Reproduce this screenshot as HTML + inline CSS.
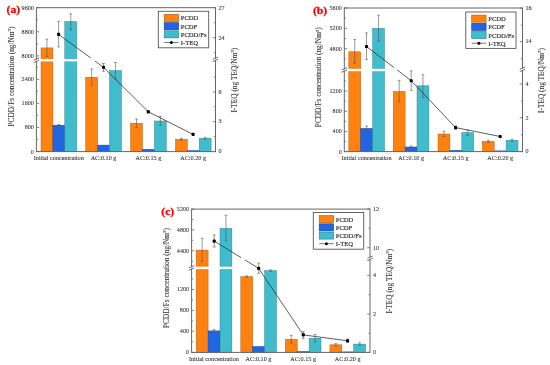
<!DOCTYPE html>
<html><head><meta charset="utf-8"><style>
html,body{margin:0;padding:0;background:#fff;width:550px;height:365px;overflow:hidden}
svg{display:block;font-family:"Liberation Serif", serif;will-change:transform}
</style></head><body>
<svg width="550" height="365" viewBox="0 0 550 365">
<rect width="550" height="365" fill="#fff"/>
<rect x="41.00" y="47.90" width="11.90" height="103.70" fill="#FF8210" stroke="#B05A10" stroke-width="0.45"/>
<rect x="52.90" y="125.20" width="11.90" height="26.40" fill="#2265E2" stroke="#153F99" stroke-width="0.45"/>
<rect x="64.80" y="21.50" width="11.90" height="130.10" fill="#40BCCD" stroke="#2A7F8C" stroke-width="0.45"/>
<line x1="46.95" y1="39.10" x2="46.95" y2="56.40" stroke="#555" stroke-width="0.6"/>
<line x1="45.55" y1="39.10" x2="48.35" y2="39.10" stroke="#555" stroke-width="0.6"/>
<line x1="45.55" y1="56.40" x2="48.35" y2="56.40" stroke="#555" stroke-width="0.6"/>
<line x1="58.85" y1="124.50" x2="58.85" y2="126.00" stroke="#555" stroke-width="0.6"/>
<line x1="57.45" y1="124.50" x2="60.25" y2="124.50" stroke="#555" stroke-width="0.6"/>
<line x1="57.45" y1="126.00" x2="60.25" y2="126.00" stroke="#555" stroke-width="0.6"/>
<line x1="70.75" y1="13.80" x2="70.75" y2="29.60" stroke="#555" stroke-width="0.6"/>
<line x1="69.35" y1="13.80" x2="72.15" y2="13.80" stroke="#555" stroke-width="0.6"/>
<line x1="69.35" y1="29.60" x2="72.15" y2="29.60" stroke="#555" stroke-width="0.6"/>
<rect x="85.70" y="77.20" width="11.90" height="74.40" fill="#FF8210" stroke="#B05A10" stroke-width="0.45"/>
<rect x="97.60" y="145.10" width="11.90" height="6.50" fill="#2265E2" stroke="#153F99" stroke-width="0.45"/>
<rect x="109.50" y="70.60" width="11.90" height="81.00" fill="#40BCCD" stroke="#2A7F8C" stroke-width="0.45"/>
<line x1="91.65" y1="69.00" x2="91.65" y2="85.00" stroke="#555" stroke-width="0.6"/>
<line x1="90.25" y1="69.00" x2="93.05" y2="69.00" stroke="#555" stroke-width="0.6"/>
<line x1="90.25" y1="85.00" x2="93.05" y2="85.00" stroke="#555" stroke-width="0.6"/>
<line x1="115.45" y1="62.50" x2="115.45" y2="78.70" stroke="#555" stroke-width="0.6"/>
<line x1="114.05" y1="62.50" x2="116.85" y2="62.50" stroke="#555" stroke-width="0.6"/>
<line x1="114.05" y1="78.70" x2="116.85" y2="78.70" stroke="#555" stroke-width="0.6"/>
<rect x="130.60" y="123.20" width="11.90" height="28.40" fill="#FF8210" stroke="#B05A10" stroke-width="0.45"/>
<rect x="142.50" y="149.30" width="11.90" height="2.30" fill="#2265E2" stroke="#153F99" stroke-width="0.45"/>
<rect x="154.40" y="121.00" width="11.90" height="30.60" fill="#40BCCD" stroke="#2A7F8C" stroke-width="0.45"/>
<line x1="136.55" y1="119.00" x2="136.55" y2="127.60" stroke="#555" stroke-width="0.6"/>
<line x1="135.15" y1="119.00" x2="137.95" y2="119.00" stroke="#555" stroke-width="0.6"/>
<line x1="135.15" y1="127.60" x2="137.95" y2="127.60" stroke="#555" stroke-width="0.6"/>
<line x1="160.35" y1="116.20" x2="160.35" y2="125.40" stroke="#555" stroke-width="0.6"/>
<line x1="158.95" y1="116.20" x2="161.75" y2="116.20" stroke="#555" stroke-width="0.6"/>
<line x1="158.95" y1="125.40" x2="161.75" y2="125.40" stroke="#555" stroke-width="0.6"/>
<rect x="175.40" y="139.20" width="11.90" height="12.40" fill="#FF8210" stroke="#B05A10" stroke-width="0.45"/>
<rect x="187.30" y="150.60" width="11.90" height="1.00" fill="#2265E2" stroke="#153F99" stroke-width="0.45"/>
<rect x="199.20" y="138.30" width="11.90" height="13.30" fill="#40BCCD" stroke="#2A7F8C" stroke-width="0.45"/>
<line x1="181.35" y1="138.20" x2="181.35" y2="140.20" stroke="#555" stroke-width="0.6"/>
<line x1="179.95" y1="138.20" x2="182.75" y2="138.20" stroke="#555" stroke-width="0.6"/>
<line x1="179.95" y1="140.20" x2="182.75" y2="140.20" stroke="#555" stroke-width="0.6"/>
<line x1="205.15" y1="137.30" x2="205.15" y2="139.30" stroke="#555" stroke-width="0.6"/>
<line x1="203.75" y1="137.30" x2="206.55" y2="137.30" stroke="#555" stroke-width="0.6"/>
<line x1="203.75" y1="139.30" x2="206.55" y2="139.30" stroke="#555" stroke-width="0.6"/>
<rect x="37.00" y="59.00" width="177.90" height="2.40" fill="#fff"/>
<path d="M58.60,34.40 L103.50,67.30 L148.30,111.80 L193.10,134.40" fill="none" stroke="#333" stroke-width="0.8"/>
<line x1="90.70" y1="57.92" x2="95.00" y2="61.07" stroke="#fff" stroke-width="2.2"/>
<line x1="58.60" y1="21.40" x2="58.60" y2="46.90" stroke="#555" stroke-width="0.6"/>
<line x1="57.20" y1="21.40" x2="60.00" y2="21.40" stroke="#555" stroke-width="0.6"/>
<line x1="57.20" y1="46.90" x2="60.00" y2="46.90" stroke="#555" stroke-width="0.6"/>
<rect x="57.05" y="32.85" width="3.1" height="3.1" rx="0.9" fill="#000"/>
<line x1="103.50" y1="63.50" x2="103.50" y2="71.30" stroke="#555" stroke-width="0.6"/>
<line x1="102.10" y1="63.50" x2="104.90" y2="63.50" stroke="#555" stroke-width="0.6"/>
<line x1="102.10" y1="71.30" x2="104.90" y2="71.30" stroke="#555" stroke-width="0.6"/>
<rect x="101.95" y="65.75" width="3.1" height="3.1" rx="0.9" fill="#000"/>
<line x1="148.30" y1="110.50" x2="148.30" y2="113.00" stroke="#555" stroke-width="0.6"/>
<line x1="146.90" y1="110.50" x2="149.70" y2="110.50" stroke="#555" stroke-width="0.6"/>
<line x1="146.90" y1="113.00" x2="149.70" y2="113.00" stroke="#555" stroke-width="0.6"/>
<rect x="146.75" y="110.25" width="3.1" height="3.1" rx="0.9" fill="#000"/>
<rect x="191.55" y="132.85" width="3.1" height="3.1" rx="0.9" fill="#000"/>
<line x1="36.40" y1="7.70" x2="215.50" y2="7.70" stroke="#666666" stroke-width="1.0"/>
<line x1="36.40" y1="151.60" x2="215.50" y2="151.60" stroke="#666666" stroke-width="1.0"/>
<line x1="36.40" y1="7.20" x2="36.40" y2="152.10" stroke="#666666" stroke-width="1.0"/>
<line x1="215.50" y1="7.20" x2="215.50" y2="152.10" stroke="#666666" stroke-width="1.0"/>
<line x1="36.40" y1="7.70" x2="39.20" y2="7.70" stroke="#666666" stroke-width="0.8"/>
<text transform="translate(33.90,9.60) scale(0.88,1)" font-size="7.0" text-anchor="end" fill="#3a3a3a" stroke="#3a3a3a" stroke-width="0.1">9600</text>
<line x1="36.40" y1="31.80" x2="39.20" y2="31.80" stroke="#666666" stroke-width="0.8"/>
<text transform="translate(33.90,33.70) scale(0.88,1)" font-size="7.0" text-anchor="end" fill="#3a3a3a" stroke="#3a3a3a" stroke-width="0.1">8800</text>
<line x1="36.40" y1="55.90" x2="39.20" y2="55.90" stroke="#666666" stroke-width="0.8"/>
<text transform="translate(33.90,57.80) scale(0.88,1)" font-size="7.0" text-anchor="end" fill="#3a3a3a" stroke="#3a3a3a" stroke-width="0.1">8000</text>
<line x1="36.40" y1="79.30" x2="39.20" y2="79.30" stroke="#666666" stroke-width="0.8"/>
<text transform="translate(33.90,81.20) scale(0.88,1)" font-size="7.0" text-anchor="end" fill="#3a3a3a" stroke="#3a3a3a" stroke-width="0.1">2400</text>
<line x1="36.40" y1="103.30" x2="39.20" y2="103.30" stroke="#666666" stroke-width="0.8"/>
<text transform="translate(33.90,105.20) scale(0.88,1)" font-size="7.0" text-anchor="end" fill="#3a3a3a" stroke="#3a3a3a" stroke-width="0.1">1600</text>
<line x1="36.40" y1="127.40" x2="39.20" y2="127.40" stroke="#666666" stroke-width="0.8"/>
<text transform="translate(33.90,129.30) scale(0.88,1)" font-size="7.0" text-anchor="end" fill="#3a3a3a" stroke="#3a3a3a" stroke-width="0.1">800</text>
<line x1="36.40" y1="151.60" x2="39.20" y2="151.60" stroke="#666666" stroke-width="0.8"/>
<text transform="translate(33.90,153.50) scale(0.88,1)" font-size="7.0" text-anchor="end" fill="#3a3a3a" stroke="#3a3a3a" stroke-width="0.1">0</text>
<line x1="36.40" y1="19.70" x2="38.00" y2="19.70" stroke="#666666" stroke-width="0.8"/>
<line x1="36.40" y1="43.80" x2="38.00" y2="43.80" stroke="#666666" stroke-width="0.8"/>
<line x1="36.40" y1="67.30" x2="38.00" y2="67.30" stroke="#666666" stroke-width="0.8"/>
<line x1="36.40" y1="91.30" x2="38.00" y2="91.30" stroke="#666666" stroke-width="0.8"/>
<line x1="36.40" y1="115.40" x2="38.00" y2="115.40" stroke="#666666" stroke-width="0.8"/>
<line x1="36.40" y1="139.40" x2="38.00" y2="139.40" stroke="#666666" stroke-width="0.8"/>
<line x1="212.70" y1="7.70" x2="215.50" y2="7.70" stroke="#666666" stroke-width="0.8"/>
<text transform="translate(218.50,9.50) scale(0.88,1)" font-size="7.0" text-anchor="start" fill="#3a3a3a" stroke="#3a3a3a" stroke-width="0.1">27</text>
<line x1="212.70" y1="37.70" x2="215.50" y2="37.70" stroke="#666666" stroke-width="0.8"/>
<text transform="translate(218.50,39.50) scale(0.88,1)" font-size="7.0" text-anchor="start" fill="#3a3a3a" stroke="#3a3a3a" stroke-width="0.1">24</text>
<line x1="212.70" y1="92.00" x2="215.50" y2="92.00" stroke="#666666" stroke-width="0.8"/>
<text transform="translate(218.50,93.80) scale(0.88,1)" font-size="7.0" text-anchor="start" fill="#3a3a3a" stroke="#3a3a3a" stroke-width="0.1">6</text>
<line x1="212.70" y1="121.60" x2="215.50" y2="121.60" stroke="#666666" stroke-width="0.8"/>
<text transform="translate(218.50,123.40) scale(0.88,1)" font-size="7.0" text-anchor="start" fill="#3a3a3a" stroke="#3a3a3a" stroke-width="0.1">3</text>
<line x1="212.70" y1="151.60" x2="215.50" y2="151.60" stroke="#666666" stroke-width="0.8"/>
<text transform="translate(218.50,153.40) scale(0.88,1)" font-size="7.0" text-anchor="start" fill="#3a3a3a" stroke="#3a3a3a" stroke-width="0.1">0</text>
<line x1="213.90" y1="22.70" x2="215.50" y2="22.70" stroke="#666666" stroke-width="0.8"/>
<line x1="213.90" y1="52.70" x2="215.50" y2="52.70" stroke="#666666" stroke-width="0.8"/>
<line x1="213.90" y1="77.20" x2="215.50" y2="77.20" stroke="#666666" stroke-width="0.8"/>
<line x1="213.90" y1="106.80" x2="215.50" y2="106.80" stroke="#666666" stroke-width="0.8"/>
<line x1="213.90" y1="136.50" x2="215.50" y2="136.50" stroke="#666666" stroke-width="0.8"/>
<rect x="35.20" y="59.50" width="2.40" height="1.40" fill="#fff"/>
<line x1="33.70" y1="60.20" x2="39.10" y2="57.90" stroke="#555" stroke-width="0.85"/>
<line x1="33.70" y1="62.50" x2="39.10" y2="60.20" stroke="#555" stroke-width="0.85"/>
<rect x="214.30" y="58.60" width="2.40" height="1.40" fill="#fff"/>
<line x1="212.80" y1="59.30" x2="218.20" y2="57.00" stroke="#555" stroke-width="0.85"/>
<line x1="212.80" y1="61.60" x2="218.20" y2="59.30" stroke="#555" stroke-width="0.85"/>
<text x="58.79" y="159.60" font-size="6.2" text-anchor="middle" fill="#3a3a3a" stroke="#3a3a3a" stroke-width="0.1">Initial concentration</text>
<text x="103.56" y="159.60" font-size="6.2" text-anchor="middle" fill="#3a3a3a" stroke="#3a3a3a" stroke-width="0.1">AC:0.10 g</text>
<text x="148.34" y="159.60" font-size="6.2" text-anchor="middle" fill="#3a3a3a" stroke="#3a3a3a" stroke-width="0.1">AC:0.15 g</text>
<text x="193.11" y="159.60" font-size="6.2" text-anchor="middle" fill="#3a3a3a" stroke="#3a3a3a" stroke-width="0.1">AC:0.20 g</text>
<text transform="translate(13.60,76.50) rotate(-90)" font-size="7.35" text-anchor="middle" fill="#404040" stroke="#404040" stroke-width="0.1">PCDD/Fs concentration (ng/Nm<tspan font-size="5" dy="-2.6">3</tspan><tspan dy="2.6">)</tspan></text>
<text transform="translate(236.80,80.20) rotate(-90)" font-size="7.35" text-anchor="middle" fill="#404040" stroke="#404040" stroke-width="0.1">I-TEQ (ng TEQ/Nm<tspan font-size="5" dy="-2.6">3</tspan><tspan dy="2.6">)</tspan></text>
<text transform="translate(6.60,13.00) scale(1.08,1)" font-size="10.8" fill="#FF0000" stroke="#FF0000" stroke-width="0.3" font-weight="bold">(a)</text>
<rect x="158.30" y="11.30" width="50.40" height="36.50" fill="#fff" stroke="#555" stroke-width="0.9"/>
<rect x="164.20" y="14.40" width="14.40" height="7.10" fill="#FF8210" stroke="#B05A10" stroke-width="0.6"/>
<text x="180.80" y="20.40" font-size="6.6" text-anchor="start" fill="#3a3a3a" stroke="#3a3a3a" stroke-width="0.22" font-weight="normal" >PCDD</text>
<rect x="164.20" y="22.60" width="14.40" height="7.10" fill="#2265E2" stroke="#153F99" stroke-width="0.6"/>
<text x="180.80" y="28.60" font-size="6.6" text-anchor="start" fill="#3a3a3a" stroke="#3a3a3a" stroke-width="0.22" font-weight="normal" >PCDF</text>
<rect x="164.20" y="30.80" width="14.40" height="7.10" fill="#40BCCD" stroke="#2A7F8C" stroke-width="0.6"/>
<text x="180.80" y="36.80" font-size="6.6" text-anchor="start" fill="#3a3a3a" stroke="#3a3a3a" stroke-width="0.22" font-weight="normal" >PCDD/Fs</text>
<line x1="164.20" y1="42.50" x2="178.60" y2="42.50" stroke="#555" stroke-width="0.8"/>
<circle cx="171.40" cy="42.50" r="1.5" fill="#000"/>
<text x="180.80" y="44.90" font-size="6.6" text-anchor="start" fill="#3a3a3a" stroke="#3a3a3a" stroke-width="0.22" font-weight="normal" >I-TEQ</text>
<rect x="348.80" y="51.80" width="11.90" height="99.80" fill="#FF8210" stroke="#B05A10" stroke-width="0.45"/>
<rect x="360.70" y="128.40" width="11.90" height="23.20" fill="#2265E2" stroke="#153F99" stroke-width="0.45"/>
<rect x="372.60" y="28.30" width="11.90" height="123.30" fill="#40BCCD" stroke="#2A7F8C" stroke-width="0.45"/>
<line x1="354.75" y1="39.50" x2="354.75" y2="63.20" stroke="#555" stroke-width="0.6"/>
<line x1="353.35" y1="39.50" x2="356.15" y2="39.50" stroke="#555" stroke-width="0.6"/>
<line x1="353.35" y1="63.20" x2="356.15" y2="63.20" stroke="#555" stroke-width="0.6"/>
<line x1="366.65" y1="126.00" x2="366.65" y2="130.50" stroke="#555" stroke-width="0.6"/>
<line x1="365.25" y1="126.00" x2="368.05" y2="126.00" stroke="#555" stroke-width="0.6"/>
<line x1="365.25" y1="130.50" x2="368.05" y2="130.50" stroke="#555" stroke-width="0.6"/>
<line x1="378.55" y1="15.30" x2="378.55" y2="40.80" stroke="#555" stroke-width="0.6"/>
<line x1="377.15" y1="15.30" x2="379.95" y2="15.30" stroke="#555" stroke-width="0.6"/>
<line x1="377.15" y1="40.80" x2="379.95" y2="40.80" stroke="#555" stroke-width="0.6"/>
<rect x="393.20" y="91.40" width="11.90" height="60.20" fill="#FF8210" stroke="#B05A10" stroke-width="0.45"/>
<rect x="405.10" y="147.00" width="11.90" height="4.60" fill="#2265E2" stroke="#153F99" stroke-width="0.45"/>
<rect x="417.00" y="85.80" width="11.90" height="65.80" fill="#40BCCD" stroke="#2A7F8C" stroke-width="0.45"/>
<line x1="399.15" y1="80.40" x2="399.15" y2="101.80" stroke="#555" stroke-width="0.6"/>
<line x1="397.75" y1="80.40" x2="400.55" y2="80.40" stroke="#555" stroke-width="0.6"/>
<line x1="397.75" y1="101.80" x2="400.55" y2="101.80" stroke="#555" stroke-width="0.6"/>
<line x1="411.05" y1="146.00" x2="411.05" y2="148.00" stroke="#555" stroke-width="0.6"/>
<line x1="409.65" y1="146.00" x2="412.45" y2="146.00" stroke="#555" stroke-width="0.6"/>
<line x1="409.65" y1="148.00" x2="412.45" y2="148.00" stroke="#555" stroke-width="0.6"/>
<line x1="422.95" y1="74.70" x2="422.95" y2="97.70" stroke="#555" stroke-width="0.6"/>
<line x1="421.55" y1="74.70" x2="424.35" y2="74.70" stroke="#555" stroke-width="0.6"/>
<line x1="421.55" y1="97.70" x2="424.35" y2="97.70" stroke="#555" stroke-width="0.6"/>
<rect x="438.00" y="134.00" width="11.90" height="17.60" fill="#FF8210" stroke="#B05A10" stroke-width="0.45"/>
<rect x="449.90" y="150.30" width="11.90" height="1.30" fill="#2265E2" stroke="#153F99" stroke-width="0.45"/>
<rect x="461.80" y="132.60" width="11.90" height="19.00" fill="#40BCCD" stroke="#2A7F8C" stroke-width="0.45"/>
<line x1="443.95" y1="131.20" x2="443.95" y2="136.50" stroke="#555" stroke-width="0.6"/>
<line x1="442.55" y1="131.20" x2="445.35" y2="131.20" stroke="#555" stroke-width="0.6"/>
<line x1="442.55" y1="136.50" x2="445.35" y2="136.50" stroke="#555" stroke-width="0.6"/>
<line x1="467.75" y1="130.10" x2="467.75" y2="135.30" stroke="#555" stroke-width="0.6"/>
<line x1="466.35" y1="130.10" x2="469.15" y2="130.10" stroke="#555" stroke-width="0.6"/>
<line x1="466.35" y1="135.30" x2="469.15" y2="135.30" stroke="#555" stroke-width="0.6"/>
<rect x="482.30" y="141.40" width="11.90" height="10.20" fill="#FF8210" stroke="#B05A10" stroke-width="0.45"/>
<rect x="494.20" y="150.90" width="11.90" height="0.70" fill="#2265E2" stroke="#153F99" stroke-width="0.45"/>
<rect x="506.10" y="140.30" width="11.90" height="11.30" fill="#40BCCD" stroke="#2A7F8C" stroke-width="0.45"/>
<line x1="488.25" y1="140.30" x2="488.25" y2="142.50" stroke="#555" stroke-width="0.6"/>
<line x1="486.85" y1="140.30" x2="489.65" y2="140.30" stroke="#555" stroke-width="0.6"/>
<line x1="486.85" y1="142.50" x2="489.65" y2="142.50" stroke="#555" stroke-width="0.6"/>
<line x1="512.05" y1="139.20" x2="512.05" y2="141.40" stroke="#555" stroke-width="0.6"/>
<line x1="510.65" y1="139.20" x2="513.45" y2="139.20" stroke="#555" stroke-width="0.6"/>
<line x1="510.65" y1="141.40" x2="513.45" y2="141.40" stroke="#555" stroke-width="0.6"/>
<rect x="344.90" y="68.80" width="177.00" height="2.40" fill="#fff"/>
<path d="M366.50,46.50 L411.20,80.70 L455.60,127.60 L500.20,136.50" fill="none" stroke="#333" stroke-width="0.8"/>
<line x1="394.00" y1="67.54" x2="397.30" y2="70.07" stroke="#fff" stroke-width="2.2"/>
<line x1="366.50" y1="32.90" x2="366.50" y2="59.50" stroke="#555" stroke-width="0.6"/>
<line x1="365.10" y1="32.90" x2="367.90" y2="32.90" stroke="#555" stroke-width="0.6"/>
<line x1="365.10" y1="59.50" x2="367.90" y2="59.50" stroke="#555" stroke-width="0.6"/>
<rect x="364.95" y="44.95" width="3.1" height="3.1" rx="0.9" fill="#000"/>
<line x1="411.20" y1="70.90" x2="411.20" y2="90.30" stroke="#555" stroke-width="0.6"/>
<line x1="409.80" y1="70.90" x2="412.60" y2="70.90" stroke="#555" stroke-width="0.6"/>
<line x1="409.80" y1="90.30" x2="412.60" y2="90.30" stroke="#555" stroke-width="0.6"/>
<rect x="409.65" y="79.15" width="3.1" height="3.1" rx="0.9" fill="#000"/>
<line x1="455.60" y1="126.00" x2="455.60" y2="129.20" stroke="#555" stroke-width="0.6"/>
<line x1="454.20" y1="126.00" x2="457.00" y2="126.00" stroke="#555" stroke-width="0.6"/>
<line x1="454.20" y1="129.20" x2="457.00" y2="129.20" stroke="#555" stroke-width="0.6"/>
<rect x="454.05" y="126.05" width="3.1" height="3.1" rx="0.9" fill="#000"/>
<rect x="498.65" y="134.95" width="3.1" height="3.1" rx="0.9" fill="#000"/>
<line x1="344.30" y1="8.00" x2="522.50" y2="8.00" stroke="#666666" stroke-width="1.0"/>
<line x1="344.30" y1="151.60" x2="522.50" y2="151.60" stroke="#666666" stroke-width="1.0"/>
<line x1="344.30" y1="7.50" x2="344.30" y2="152.10" stroke="#666666" stroke-width="1.0"/>
<line x1="522.50" y1="7.50" x2="522.50" y2="152.10" stroke="#666666" stroke-width="1.0"/>
<line x1="344.30" y1="7.90" x2="347.10" y2="7.90" stroke="#666666" stroke-width="0.8"/>
<text transform="translate(341.80,9.80) scale(0.88,1)" font-size="7.0" text-anchor="end" fill="#3a3a3a" stroke="#3a3a3a" stroke-width="0.1">5600</text>
<line x1="344.30" y1="28.30" x2="347.10" y2="28.30" stroke="#666666" stroke-width="0.8"/>
<text transform="translate(341.80,30.20) scale(0.88,1)" font-size="7.0" text-anchor="end" fill="#3a3a3a" stroke="#3a3a3a" stroke-width="0.1">5200</text>
<line x1="344.30" y1="48.70" x2="347.10" y2="48.70" stroke="#666666" stroke-width="0.8"/>
<text transform="translate(341.80,50.60) scale(0.88,1)" font-size="7.0" text-anchor="end" fill="#3a3a3a" stroke="#3a3a3a" stroke-width="0.1">4800</text>
<line x1="344.30" y1="91.10" x2="347.10" y2="91.10" stroke="#666666" stroke-width="0.8"/>
<text transform="translate(341.80,93.00) scale(0.88,1)" font-size="7.0" text-anchor="end" fill="#3a3a3a" stroke="#3a3a3a" stroke-width="0.1">1200</text>
<line x1="344.30" y1="111.30" x2="347.10" y2="111.30" stroke="#666666" stroke-width="0.8"/>
<text transform="translate(341.80,113.20) scale(0.88,1)" font-size="7.0" text-anchor="end" fill="#3a3a3a" stroke="#3a3a3a" stroke-width="0.1">800</text>
<line x1="344.30" y1="131.40" x2="347.10" y2="131.40" stroke="#666666" stroke-width="0.8"/>
<text transform="translate(341.80,133.30) scale(0.88,1)" font-size="7.0" text-anchor="end" fill="#3a3a3a" stroke="#3a3a3a" stroke-width="0.1">400</text>
<line x1="344.30" y1="151.60" x2="347.10" y2="151.60" stroke="#666666" stroke-width="0.8"/>
<text transform="translate(341.80,153.50) scale(0.88,1)" font-size="7.0" text-anchor="end" fill="#3a3a3a" stroke="#3a3a3a" stroke-width="0.1">0</text>
<line x1="344.30" y1="18.10" x2="345.90" y2="18.10" stroke="#666666" stroke-width="0.8"/>
<line x1="344.30" y1="38.50" x2="345.90" y2="38.50" stroke="#666666" stroke-width="0.8"/>
<line x1="344.30" y1="58.90" x2="345.90" y2="58.90" stroke="#666666" stroke-width="0.8"/>
<line x1="344.30" y1="80.90" x2="345.90" y2="80.90" stroke="#666666" stroke-width="0.8"/>
<line x1="344.30" y1="101.30" x2="345.90" y2="101.30" stroke="#666666" stroke-width="0.8"/>
<line x1="344.30" y1="121.40" x2="345.90" y2="121.40" stroke="#666666" stroke-width="0.8"/>
<line x1="344.30" y1="141.40" x2="345.90" y2="141.40" stroke="#666666" stroke-width="0.8"/>
<line x1="519.70" y1="8.10" x2="522.50" y2="8.10" stroke="#666666" stroke-width="0.8"/>
<text transform="translate(525.50,9.90) scale(0.88,1)" font-size="7.0" text-anchor="start" fill="#3a3a3a" stroke="#3a3a3a" stroke-width="0.1">16</text>
<line x1="519.70" y1="41.60" x2="522.50" y2="41.60" stroke="#666666" stroke-width="0.8"/>
<text transform="translate(525.50,43.40) scale(0.88,1)" font-size="7.0" text-anchor="start" fill="#3a3a3a" stroke="#3a3a3a" stroke-width="0.1">14</text>
<line x1="519.70" y1="84.00" x2="522.50" y2="84.00" stroke="#666666" stroke-width="0.8"/>
<text transform="translate(525.50,85.80) scale(0.88,1)" font-size="7.0" text-anchor="start" fill="#3a3a3a" stroke="#3a3a3a" stroke-width="0.1">4</text>
<line x1="519.70" y1="117.80" x2="522.50" y2="117.80" stroke="#666666" stroke-width="0.8"/>
<text transform="translate(525.50,119.60) scale(0.88,1)" font-size="7.0" text-anchor="start" fill="#3a3a3a" stroke="#3a3a3a" stroke-width="0.1">2</text>
<line x1="519.70" y1="151.60" x2="522.50" y2="151.60" stroke="#666666" stroke-width="0.8"/>
<text transform="translate(525.50,153.40) scale(0.88,1)" font-size="7.0" text-anchor="start" fill="#3a3a3a" stroke="#3a3a3a" stroke-width="0.1">0</text>
<line x1="520.90" y1="25.20" x2="522.50" y2="25.20" stroke="#666666" stroke-width="0.8"/>
<line x1="520.90" y1="58.70" x2="522.50" y2="58.70" stroke="#666666" stroke-width="0.8"/>
<line x1="520.90" y1="100.90" x2="522.50" y2="100.90" stroke="#666666" stroke-width="0.8"/>
<line x1="520.90" y1="134.80" x2="522.50" y2="134.80" stroke="#666666" stroke-width="0.8"/>
<rect x="343.10" y="69.30" width="2.40" height="1.40" fill="#fff"/>
<line x1="341.60" y1="70.00" x2="347.00" y2="67.70" stroke="#555" stroke-width="0.85"/>
<line x1="341.60" y1="72.30" x2="347.00" y2="70.00" stroke="#555" stroke-width="0.85"/>
<rect x="521.30" y="68.60" width="2.40" height="1.40" fill="#fff"/>
<line x1="519.80" y1="69.30" x2="525.20" y2="67.00" stroke="#555" stroke-width="0.85"/>
<line x1="519.80" y1="71.60" x2="525.20" y2="69.30" stroke="#555" stroke-width="0.85"/>
<text x="366.57" y="159.60" font-size="6.2" text-anchor="middle" fill="#3a3a3a" stroke="#3a3a3a" stroke-width="0.1">Initial concentration</text>
<text x="411.12" y="159.60" font-size="6.2" text-anchor="middle" fill="#3a3a3a" stroke="#3a3a3a" stroke-width="0.1">AC:0.10 g</text>
<text x="455.68" y="159.60" font-size="6.2" text-anchor="middle" fill="#3a3a3a" stroke="#3a3a3a" stroke-width="0.1">AC:0.15 g</text>
<text x="500.23" y="159.60" font-size="6.2" text-anchor="middle" fill="#3a3a3a" stroke="#3a3a3a" stroke-width="0.1">AC:0.20 g</text>
<text transform="translate(321.20,77.20) rotate(-90)" font-size="7.35" text-anchor="middle" fill="#404040" stroke="#404040" stroke-width="0.1">PCDD/Fs concentration (ng/Nm<tspan font-size="5" dy="-2.6">3</tspan><tspan dy="2.6">)</tspan></text>
<text transform="translate(543.60,80.50) rotate(-90)" font-size="7.35" text-anchor="middle" fill="#404040" stroke="#404040" stroke-width="0.1">I-TEQ (ng TEQ/Nm<tspan font-size="5" dy="-2.6">3</tspan><tspan dy="2.6">)</tspan></text>
<text transform="translate(312.90,13.80) scale(1.08,1)" font-size="10.8" fill="#FF0000" stroke="#FF0000" stroke-width="0.3" font-weight="bold">(b)</text>
<rect x="465.80" y="12.00" width="50.20" height="36.40" fill="#fff" stroke="#555" stroke-width="0.9"/>
<rect x="471.70" y="15.10" width="14.40" height="7.10" fill="#FF8210" stroke="#B05A10" stroke-width="0.6"/>
<text x="488.30" y="21.10" font-size="6.6" text-anchor="start" fill="#3a3a3a" stroke="#3a3a3a" stroke-width="0.22" font-weight="normal" >PCDD</text>
<rect x="471.70" y="23.30" width="14.40" height="7.10" fill="#2265E2" stroke="#153F99" stroke-width="0.6"/>
<text x="488.30" y="29.30" font-size="6.6" text-anchor="start" fill="#3a3a3a" stroke="#3a3a3a" stroke-width="0.22" font-weight="normal" >PCDF</text>
<rect x="471.70" y="31.50" width="14.40" height="7.10" fill="#40BCCD" stroke="#2A7F8C" stroke-width="0.6"/>
<text x="488.30" y="37.50" font-size="6.6" text-anchor="start" fill="#3a3a3a" stroke="#3a3a3a" stroke-width="0.22" font-weight="normal" >PCDD/Fs</text>
<line x1="471.70" y1="43.20" x2="486.10" y2="43.20" stroke="#555" stroke-width="0.8"/>
<circle cx="478.90" cy="43.20" r="1.5" fill="#000"/>
<text x="488.30" y="45.60" font-size="6.6" text-anchor="start" fill="#3a3a3a" stroke="#3a3a3a" stroke-width="0.22" font-weight="normal" >I-TEQ</text>
<rect x="196.20" y="250.10" width="11.90" height="102.30" fill="#FF8210" stroke="#B05A10" stroke-width="0.45"/>
<rect x="208.10" y="330.90" width="11.90" height="21.50" fill="#2265E2" stroke="#153F99" stroke-width="0.45"/>
<rect x="220.00" y="228.30" width="11.90" height="124.10" fill="#40BCCD" stroke="#2A7F8C" stroke-width="0.45"/>
<line x1="202.15" y1="238.30" x2="202.15" y2="261.40" stroke="#555" stroke-width="0.6"/>
<line x1="200.75" y1="238.30" x2="203.55" y2="238.30" stroke="#555" stroke-width="0.6"/>
<line x1="200.75" y1="261.40" x2="203.55" y2="261.40" stroke="#555" stroke-width="0.6"/>
<line x1="214.05" y1="329.50" x2="214.05" y2="332.50" stroke="#555" stroke-width="0.6"/>
<line x1="212.65" y1="329.50" x2="215.45" y2="329.50" stroke="#555" stroke-width="0.6"/>
<line x1="212.65" y1="332.50" x2="215.45" y2="332.50" stroke="#555" stroke-width="0.6"/>
<line x1="225.95" y1="215.30" x2="225.95" y2="241.10" stroke="#555" stroke-width="0.6"/>
<line x1="224.55" y1="215.30" x2="227.35" y2="215.30" stroke="#555" stroke-width="0.6"/>
<line x1="224.55" y1="241.10" x2="227.35" y2="241.10" stroke="#555" stroke-width="0.6"/>
<rect x="240.80" y="276.60" width="11.90" height="75.80" fill="#FF8210" stroke="#B05A10" stroke-width="0.45"/>
<rect x="252.70" y="346.50" width="11.90" height="5.90" fill="#2265E2" stroke="#153F99" stroke-width="0.45"/>
<rect x="264.60" y="270.60" width="11.90" height="81.80" fill="#40BCCD" stroke="#2A7F8C" stroke-width="0.45"/>
<line x1="246.75" y1="275.80" x2="246.75" y2="277.40" stroke="#555" stroke-width="0.6"/>
<line x1="245.35" y1="275.80" x2="248.15" y2="275.80" stroke="#555" stroke-width="0.6"/>
<line x1="245.35" y1="277.40" x2="248.15" y2="277.40" stroke="#555" stroke-width="0.6"/>
<line x1="270.55" y1="269.80" x2="270.55" y2="271.40" stroke="#555" stroke-width="0.6"/>
<line x1="269.15" y1="269.80" x2="271.95" y2="269.80" stroke="#555" stroke-width="0.6"/>
<line x1="269.15" y1="271.40" x2="271.95" y2="271.40" stroke="#555" stroke-width="0.6"/>
<rect x="285.30" y="339.20" width="11.90" height="13.20" fill="#FF8210" stroke="#B05A10" stroke-width="0.45"/>
<rect x="297.20" y="351.50" width="11.90" height="0.90" fill="#2265E2" stroke="#153F99" stroke-width="0.45"/>
<rect x="309.10" y="338.20" width="11.90" height="14.20" fill="#40BCCD" stroke="#2A7F8C" stroke-width="0.45"/>
<line x1="291.25" y1="335.40" x2="291.25" y2="343.10" stroke="#555" stroke-width="0.6"/>
<line x1="289.85" y1="335.40" x2="292.65" y2="335.40" stroke="#555" stroke-width="0.6"/>
<line x1="289.85" y1="343.10" x2="292.65" y2="343.10" stroke="#555" stroke-width="0.6"/>
<line x1="315.05" y1="334.60" x2="315.05" y2="342.00" stroke="#555" stroke-width="0.6"/>
<line x1="313.65" y1="334.60" x2="316.45" y2="334.60" stroke="#555" stroke-width="0.6"/>
<line x1="313.65" y1="342.00" x2="316.45" y2="342.00" stroke="#555" stroke-width="0.6"/>
<rect x="329.90" y="344.80" width="11.90" height="7.60" fill="#FF8210" stroke="#B05A10" stroke-width="0.45"/>
<rect x="341.80" y="351.90" width="11.90" height="0.50" fill="#2265E2" stroke="#153F99" stroke-width="0.45"/>
<rect x="353.70" y="344.10" width="11.90" height="8.30" fill="#40BCCD" stroke="#2A7F8C" stroke-width="0.45"/>
<line x1="335.85" y1="343.60" x2="335.85" y2="346.00" stroke="#555" stroke-width="0.6"/>
<line x1="334.45" y1="343.60" x2="337.25" y2="343.60" stroke="#555" stroke-width="0.6"/>
<line x1="334.45" y1="346.00" x2="337.25" y2="346.00" stroke="#555" stroke-width="0.6"/>
<line x1="359.65" y1="342.80" x2="359.65" y2="345.40" stroke="#555" stroke-width="0.6"/>
<line x1="358.25" y1="342.80" x2="361.05" y2="342.80" stroke="#555" stroke-width="0.6"/>
<line x1="358.25" y1="345.40" x2="361.05" y2="345.40" stroke="#555" stroke-width="0.6"/>
<rect x="192.20" y="266.70" width="177.20" height="2.40" fill="#fff"/>
<path d="M214.20,241.10 L258.70,268.40 L303.30,334.90 L347.60,340.80" fill="none" stroke="#333" stroke-width="0.8"/>
<line x1="241.20" y1="257.66" x2="244.90" y2="259.93" stroke="#fff" stroke-width="2.2"/>
<line x1="214.20" y1="235.00" x2="214.20" y2="247.00" stroke="#555" stroke-width="0.6"/>
<line x1="212.80" y1="235.00" x2="215.60" y2="235.00" stroke="#555" stroke-width="0.6"/>
<line x1="212.80" y1="247.00" x2="215.60" y2="247.00" stroke="#555" stroke-width="0.6"/>
<rect x="212.65" y="239.55" width="3.1" height="3.1" rx="0.9" fill="#000"/>
<line x1="258.70" y1="263.20" x2="258.70" y2="273.30" stroke="#555" stroke-width="0.6"/>
<line x1="257.30" y1="263.20" x2="260.10" y2="263.20" stroke="#555" stroke-width="0.6"/>
<line x1="257.30" y1="273.30" x2="260.10" y2="273.30" stroke="#555" stroke-width="0.6"/>
<rect x="257.15" y="266.85" width="3.1" height="3.1" rx="0.9" fill="#000"/>
<line x1="303.30" y1="331.60" x2="303.30" y2="338.70" stroke="#555" stroke-width="0.6"/>
<line x1="301.90" y1="331.60" x2="304.70" y2="331.60" stroke="#555" stroke-width="0.6"/>
<line x1="301.90" y1="338.70" x2="304.70" y2="338.70" stroke="#555" stroke-width="0.6"/>
<rect x="301.75" y="333.35" width="3.1" height="3.1" rx="0.9" fill="#000"/>
<line x1="347.60" y1="339.00" x2="347.60" y2="342.60" stroke="#555" stroke-width="0.6"/>
<line x1="346.20" y1="339.00" x2="349.00" y2="339.00" stroke="#555" stroke-width="0.6"/>
<line x1="346.20" y1="342.60" x2="349.00" y2="342.60" stroke="#555" stroke-width="0.6"/>
<rect x="346.05" y="339.25" width="3.1" height="3.1" rx="0.9" fill="#000"/>
<line x1="191.60" y1="209.10" x2="370.00" y2="209.10" stroke="#666666" stroke-width="1.0"/>
<line x1="191.60" y1="352.40" x2="370.00" y2="352.40" stroke="#666666" stroke-width="1.0"/>
<line x1="191.60" y1="208.60" x2="191.60" y2="352.90" stroke="#666666" stroke-width="1.0"/>
<line x1="370.00" y1="208.60" x2="370.00" y2="352.90" stroke="#666666" stroke-width="1.0"/>
<line x1="191.60" y1="209.10" x2="194.40" y2="209.10" stroke="#666666" stroke-width="0.8"/>
<text transform="translate(189.10,211.00) scale(0.88,1)" font-size="7.0" text-anchor="end" fill="#3a3a3a" stroke="#3a3a3a" stroke-width="0.1">5200</text>
<line x1="191.60" y1="229.90" x2="194.40" y2="229.90" stroke="#666666" stroke-width="0.8"/>
<text transform="translate(189.10,231.80) scale(0.88,1)" font-size="7.0" text-anchor="end" fill="#3a3a3a" stroke="#3a3a3a" stroke-width="0.1">4800</text>
<line x1="191.60" y1="250.80" x2="194.40" y2="250.80" stroke="#666666" stroke-width="0.8"/>
<text transform="translate(189.10,252.70) scale(0.88,1)" font-size="7.0" text-anchor="end" fill="#3a3a3a" stroke="#3a3a3a" stroke-width="0.1">4400</text>
<line x1="191.60" y1="289.50" x2="194.40" y2="289.50" stroke="#666666" stroke-width="0.8"/>
<text transform="translate(189.10,291.40) scale(0.88,1)" font-size="7.0" text-anchor="end" fill="#3a3a3a" stroke="#3a3a3a" stroke-width="0.1">1200</text>
<line x1="191.60" y1="310.40" x2="194.40" y2="310.40" stroke="#666666" stroke-width="0.8"/>
<text transform="translate(189.10,312.30) scale(0.88,1)" font-size="7.0" text-anchor="end" fill="#3a3a3a" stroke="#3a3a3a" stroke-width="0.1">800</text>
<line x1="191.60" y1="331.20" x2="194.40" y2="331.20" stroke="#666666" stroke-width="0.8"/>
<text transform="translate(189.10,333.10) scale(0.88,1)" font-size="7.0" text-anchor="end" fill="#3a3a3a" stroke="#3a3a3a" stroke-width="0.1">400</text>
<line x1="191.60" y1="352.40" x2="194.40" y2="352.40" stroke="#666666" stroke-width="0.8"/>
<text transform="translate(189.10,354.30) scale(0.88,1)" font-size="7.0" text-anchor="end" fill="#3a3a3a" stroke="#3a3a3a" stroke-width="0.1">0</text>
<line x1="191.60" y1="219.50" x2="193.20" y2="219.50" stroke="#666666" stroke-width="0.8"/>
<line x1="191.60" y1="240.30" x2="193.20" y2="240.30" stroke="#666666" stroke-width="0.8"/>
<line x1="191.60" y1="261.20" x2="193.20" y2="261.20" stroke="#666666" stroke-width="0.8"/>
<line x1="191.60" y1="279.00" x2="193.20" y2="279.00" stroke="#666666" stroke-width="0.8"/>
<line x1="191.60" y1="300.00" x2="193.20" y2="300.00" stroke="#666666" stroke-width="0.8"/>
<line x1="191.60" y1="320.80" x2="193.20" y2="320.80" stroke="#666666" stroke-width="0.8"/>
<line x1="191.60" y1="341.80" x2="193.20" y2="341.80" stroke="#666666" stroke-width="0.8"/>
<line x1="367.20" y1="208.80" x2="370.00" y2="208.80" stroke="#666666" stroke-width="0.8"/>
<text transform="translate(373.00,210.60) scale(0.88,1)" font-size="7.0" text-anchor="start" fill="#3a3a3a" stroke="#3a3a3a" stroke-width="0.1">12</text>
<line x1="367.20" y1="247.70" x2="370.00" y2="247.70" stroke="#666666" stroke-width="0.8"/>
<text transform="translate(373.00,249.50) scale(0.88,1)" font-size="7.0" text-anchor="start" fill="#3a3a3a" stroke="#3a3a3a" stroke-width="0.1">10</text>
<line x1="367.20" y1="275.30" x2="370.00" y2="275.30" stroke="#666666" stroke-width="0.8"/>
<text transform="translate(373.00,277.10) scale(0.88,1)" font-size="7.0" text-anchor="start" fill="#3a3a3a" stroke="#3a3a3a" stroke-width="0.1">4</text>
<line x1="367.20" y1="314.00" x2="370.00" y2="314.00" stroke="#666666" stroke-width="0.8"/>
<text transform="translate(373.00,315.80) scale(0.88,1)" font-size="7.0" text-anchor="start" fill="#3a3a3a" stroke="#3a3a3a" stroke-width="0.1">2</text>
<line x1="367.20" y1="352.40" x2="370.00" y2="352.40" stroke="#666666" stroke-width="0.8"/>
<text transform="translate(373.00,354.20) scale(0.88,1)" font-size="7.0" text-anchor="start" fill="#3a3a3a" stroke="#3a3a3a" stroke-width="0.1">0</text>
<line x1="368.40" y1="228.30" x2="370.00" y2="228.30" stroke="#666666" stroke-width="0.8"/>
<line x1="368.40" y1="294.70" x2="370.00" y2="294.70" stroke="#666666" stroke-width="0.8"/>
<line x1="368.40" y1="333.30" x2="370.00" y2="333.30" stroke="#666666" stroke-width="0.8"/>
<rect x="190.40" y="267.20" width="2.40" height="1.40" fill="#fff"/>
<line x1="188.90" y1="267.90" x2="194.30" y2="265.60" stroke="#555" stroke-width="0.85"/>
<line x1="188.90" y1="270.20" x2="194.30" y2="267.90" stroke="#555" stroke-width="0.85"/>
<rect x="368.80" y="257.70" width="2.40" height="1.40" fill="#fff"/>
<line x1="367.30" y1="258.40" x2="372.70" y2="256.10" stroke="#555" stroke-width="0.85"/>
<line x1="367.30" y1="260.70" x2="372.70" y2="258.40" stroke="#555" stroke-width="0.85"/>
<text x="213.90" y="361.00" font-size="6.2" text-anchor="middle" fill="#3a3a3a" stroke="#3a3a3a" stroke-width="0.1">Initial concentration</text>
<text x="258.50" y="361.00" font-size="6.2" text-anchor="middle" fill="#3a3a3a" stroke="#3a3a3a" stroke-width="0.1">AC:0.10 g</text>
<text x="303.10" y="361.00" font-size="6.2" text-anchor="middle" fill="#3a3a3a" stroke="#3a3a3a" stroke-width="0.1">AC:0.15 g</text>
<text x="347.70" y="361.00" font-size="6.2" text-anchor="middle" fill="#3a3a3a" stroke="#3a3a3a" stroke-width="0.1">AC:0.20 g</text>
<text transform="translate(168.80,278.00) rotate(-90)" font-size="7.35" text-anchor="middle" fill="#404040" stroke="#404040" stroke-width="0.1">PCDD/Fs concentration (ng/Nm<tspan font-size="5" dy="-2.6">3</tspan><tspan dy="2.6">)</tspan></text>
<text transform="translate(391.60,281.20) rotate(-90)" font-size="7.35" text-anchor="middle" fill="#404040" stroke="#404040" stroke-width="0.1">I-TEQ (ng TEQ/Nm<tspan font-size="5" dy="-2.6">3</tspan><tspan dy="2.6">)</tspan></text>
<text transform="translate(161.30,214.60) scale(1.08,1)" font-size="10.8" fill="#FF0000" stroke="#FF0000" stroke-width="0.3" font-weight="bold">(c)</text>
<rect x="313.30" y="212.50" width="50.40" height="36.70" fill="#fff" stroke="#555" stroke-width="0.9"/>
<rect x="319.20" y="215.60" width="14.40" height="7.10" fill="#FF8210" stroke="#B05A10" stroke-width="0.6"/>
<text x="335.80" y="221.60" font-size="6.6" text-anchor="start" fill="#3a3a3a" stroke="#3a3a3a" stroke-width="0.22" font-weight="normal" >PCDD</text>
<rect x="319.20" y="223.80" width="14.40" height="7.10" fill="#2265E2" stroke="#153F99" stroke-width="0.6"/>
<text x="335.80" y="229.80" font-size="6.6" text-anchor="start" fill="#3a3a3a" stroke="#3a3a3a" stroke-width="0.22" font-weight="normal" >PCDF</text>
<rect x="319.20" y="232.00" width="14.40" height="7.10" fill="#40BCCD" stroke="#2A7F8C" stroke-width="0.6"/>
<text x="335.80" y="238.00" font-size="6.6" text-anchor="start" fill="#3a3a3a" stroke="#3a3a3a" stroke-width="0.22" font-weight="normal" >PCDD/Fs</text>
<line x1="319.20" y1="243.70" x2="333.60" y2="243.70" stroke="#555" stroke-width="0.8"/>
<circle cx="326.40" cy="243.70" r="1.5" fill="#000"/>
<text x="335.80" y="246.10" font-size="6.6" text-anchor="start" fill="#3a3a3a" stroke="#3a3a3a" stroke-width="0.22" font-weight="normal" >I-TEQ</text>
</svg></body></html>
